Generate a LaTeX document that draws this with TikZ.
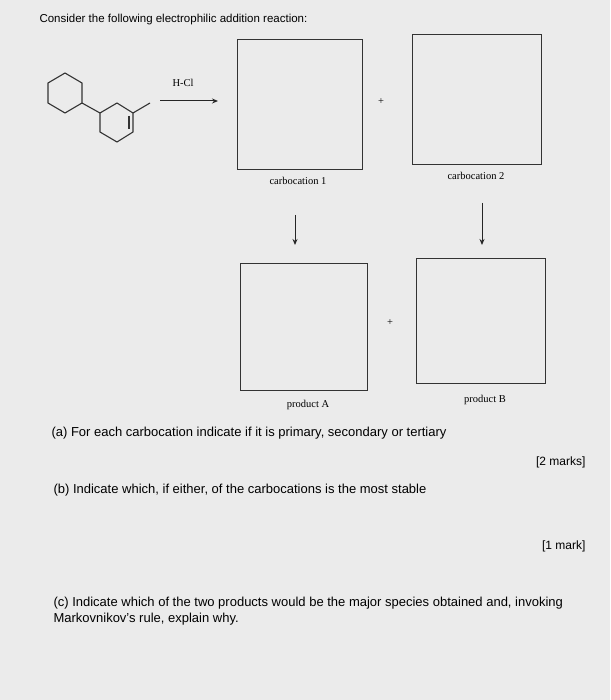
\documentclass[tikz,border=0pt]{standalone}
\usepackage{fontspec}
\setmainfont{Liberation Sans}
\newfontfamily\serif{Liberation Serif}
\usetikzlibrary{calc,arrows.meta}
\begin{document}
\begin{tikzpicture}[x=1pt,y=-1pt,
  bx/.style={draw=black!80,line width=1pt},
  bond/.style={draw=black!80,line width=1.1pt},
  arr/.style={draw=black!85,line width=1pt,-{Stealth[length=6pt,width=5pt]}},
  lab/.style={font=\serif\fontsize{10.5}{12}\selectfont},
  q/.style={font=\fontsize{13}{16}\selectfont,anchor=west,align=left}]
\fill[black!8] (0,0) rectangle (610,700);
\useasboundingbox (0,0) rectangle (610,700);
\node[q,font=\fontsize{11.5}{13}\selectfont] (t) at (36,20) {Consider the following electrophilic addition reaction:};
% molecule
\coordinate (a1) at (65,73); \coordinate (a2) at (82,83); \coordinate (a3) at (82,103);
\coordinate (a4) at (65,113); \coordinate (a5) at (48,103); \coordinate (a6) at (48,83);
\coordinate (b1) at (117,103); \coordinate (b2) at (133,113); \coordinate (b3) at (133,132);
\coordinate (b4) at (117,142); \coordinate (b5) at (100,132); \coordinate (b6) at (100,113);
\coordinate (me) at (150,103);
\draw[bond] (a1)--(a2)--(a3)--(a4)--(a5)--(a6)--cycle;
\draw[bond] (b1)--(b2)--(b3)--(b4)--(b5)--(b6)--cycle;
\draw[bond] (a3)--(b6) (b2)--(me);
\draw[bond] ($(b2)!0.15!(b3)+(-4,0)$)--($(b3)!0.15!(b2)+(-4,0)$);
\coordinate (h1) at (160,101); \coordinate (h2) at (218,101);
\draw[arr] (h1)--(h2);
\node[lab] (hcl) at (183,83) {H-Cl};
% boxes
\node[bx,minimum width=125,minimum height=130] (c1) at (299.5,105) {};
\node[bx,minimum width=129,minimum height=130] (c2) at (476.5,100) {};
\node[lab] (p1) at (381,102) {+};
\node[lab] (l1) at (298,181) {carbocation 1};
\node[lab] (l2) at (476,176) {carbocation 2};
\node[bx,minimum width=127,minimum height=127] (d1) at (303.5,326.5) {};
\node[bx,minimum width=129,minimum height=125] (d2) at (480.5,320.5) {};
\node[lab] (p2) at (390,323) {+};
\node[lab] (la) at (308,405) {product A};
\node[lab] (lb) at (485,400) {product B};
\draw[arr] (295,215)--(295,245);
\draw[arr] (482,203)--(482,245);
% questions
\node[q] (qa) at (48,433) {(a) For each carbocation indicate if it is primary, secondary or tertiary};
\node[q,anchor=east,font=\fontsize{12}{14}\selectfont] (m2) at (589,462) {[2 marks]};
\node[q] (qb) at (50,490) {(b) Indicate which, if either, of the carbocations is the most stable};
\node[q,anchor=east,font=\fontsize{12}{14}\selectfont] (m1) at (589,546) {[1 mark]};
\node[q] (qc) at (50,611) {(c) Indicate which of the two products would be the major species obtained and, invoking\\Markovnikov's rule, explain why.};
\end{tikzpicture}
\end{document}
